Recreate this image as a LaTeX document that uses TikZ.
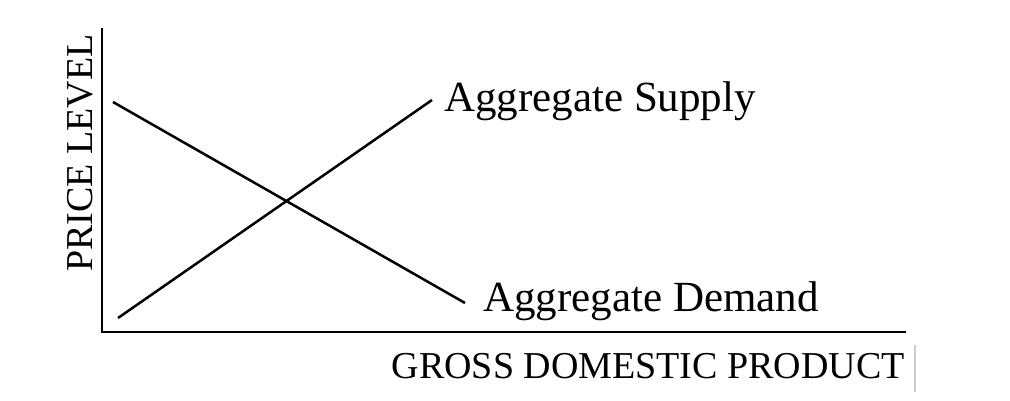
\documentclass[tikz,border=0pt]{standalone}
\usepackage{fontspec}
\setmainfont{Liberation Serif}
\begin{document}
\begin{tikzpicture}[x=1pt,y=-1pt,
  ln/.style={line width=2.5pt,black},
  lab/.style={font=\fontsize{43}{43}\selectfont,inner sep=0pt},
  captext/.style={font=\fontsize{38}{38}\selectfont,inner sep=0pt}]
\useasboundingbox (0,0) rectangle (1010,400);
\coordinate (o) at (102,332);
\coordinate (ytop) at (102,28);
\coordinate (xend) at (906,332);
\draw[ln] (ytop) -- (o) -- (xend);
\coordinate (s1) at (118,318);
\coordinate (s2) at (432,100);
\coordinate (d1) at (113,102);
\coordinate (d2) at (465,303);
\draw[ln] (s1) -- (s2);
\draw[ln] (d1) -- (d2);
\node[lab,anchor=west] (as) at (444,101) {Aggregate Supply};
\node[lab,anchor=west] (ad) at (483,301) {Aggregate Demand};
\node[captext,anchor=east] (gdp) at (905,366) {GROSS DOMESTIC PRODUCT};
\node[captext,rotate=90] (pl) at (80,153) {PRICE LEVEL};
\draw[gray!40,line width=1.5pt] (915,345) -- (915,392);
\end{tikzpicture}
\end{document}
